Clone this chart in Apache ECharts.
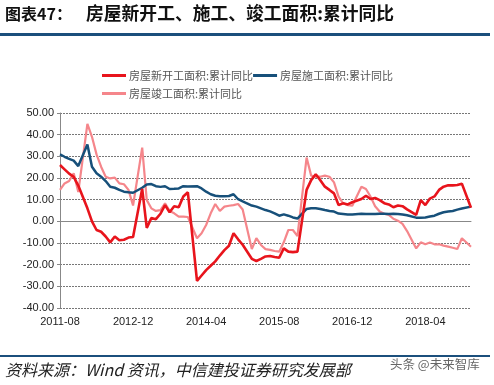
<!DOCTYPE html>
<html><head><meta charset="utf-8">
<script src="https://cdn.jsdelivr.net/npm/echarts@6/dist/echarts.min.js"></script>
<style>html,body{margin:0;padding:0;background:#fff}#c{width:494px;height:385px}</style>
</head><body><div id="c"></div>
<script>
// Monthly categories 2011-08 .. 2019-02 (January values not published -> null)
const startYear = 2011, startMonth = 8, nMonths = 91;
const months = [];
for (let i = 0; i < nMonths; i++) {
  const t = startMonth - 1 + i;
  const y = startYear + Math.floor(t / 12), m = t % 12 + 1;
  months.push(y + '-' + (m < 10 ? '0' + m : m));
}
const seriesNames = ['房屋新开工面积:累计同比', '房屋施工面积:累计同比', '房屋竣工面积:累计同比'];
const yTicks = [-40, -30, -20, -10, 0, 10, 20, 30, 40, 50];

const newStart = [
  26.0, 24.0, 22.0, 20.5, 16.5, null, 6.0, 0.0, -4.0, -4.8, -7.0, -9.7, -7.0, -8.7, -8.5, -7.5, -7.2,
  null, 15.0, -3.0, 1.5, 1.0, 3.5, 7.5, 4.2, 7.0, 6.5, 11.5, 13.4,
  null, -27.5, -25.0, -22.5, -20.5, -18.5, -15.8, -13.3, -11.3, -5.5, -8.3, -10.8,
  null, -17.3, -18.3, -17.3, -16.2, -16.0, -16.5, -16.8, -12.5, -14.0, -14.2, -14.0,
  null, 14.5, 19.0, 21.7, 19.0, 16.0, 14.5, 12.9, 7.5, 8.3, 7.8, 8.8,
  null, 10.3, 11.8, 10.3, 10.8, 9.8, 8.4, 7.8, 6.5, 7.3, 7.0, 5.5,
  null, 3.0, 9.8, 7.5, 10.5, 11.5, 14.5, 16.0, 16.6, 16.6, 16.8, 17.4,
  null, 6.3
];
const underConstruction = [
  30.9, 29.8, 28.8, 28.0, 25.5, null, 35.5, 25.2, 22.2, 20.6, 18.6, 16.0, 15.5, 14.5, 13.7, 13.4, 13.2,
  null, 15.5, 17.0, 17.2, 16.2, 15.9, 16.2, 14.9, 15.0, 15.2, 16.2, 16.1,
  null, 16.2, 15.2, 13.7, 12.5, 11.8, 11.6, 11.6, 11.7, 12.5, 10.2, 9.2,
  null, 7.3, 6.8, 6.0, 5.2, 4.6, 3.7, 2.6, 3.2, 2.6, 1.8, 1.3,
  null, 5.7, 6.0, 6.0, 5.7, 5.2, 4.8, 4.5, 3.6, 3.4, 3.2, 3.2,
  null, 3.5, 3.4, 3.4, 3.4, 3.5, 3.5, 3.4, 3.5, 3.4, 3.2, 2.8,
  null, 1.7, 1.7, 1.8, 2.2, 2.6, 3.5, 4.2, 4.5, 4.8, 5.4, 5.9,
  null, 6.8
];
const completed = [
  14.5, 17.5, 18.6, 22.2, 13.5, null, 45.0, 39.0, 30.9, 25.2, 20.6, 19.8, 20.2, 17.5, 17.1, 14.5, 7.3,
  null, 34.0, 9.8, 6.0, 4.8, 5.2, 8.3, 4.8, 3.7, 2.2, 2.2, 2.0,
  null, -7.8, -5.5, -1.7, 3.7, 8.0, 4.8, 6.8, 7.2, 7.5, 8.0, 5.5,
  null, -12.8, -7.8, -10.9, -12.8, -13.2, -13.7, -14.0, -9.7, -4.0, -4.0, -6.8,
  null, 29.4, 21.1, 20.6, 20.6, 21.1, 20.6, 18.0, 11.4, 8.3, 7.5, 7.2,
  null, 16.0, 14.9, 11.4, 7.0, 4.5, 3.5, 3.0, 1.2, 0.3, -1.2, -4.5,
  null, -12.5, -9.7, -10.6, -9.8, -10.6, -10.6, -11.2, -11.7, -12.2, -12.8, -7.8,
  null, -11.7
];

const chart = echarts.init(document.getElementById('c'), null, {renderer: 'canvas'});
const CJK = '"Noto Sans CJK SC", "Liberation Sans", sans-serif';
chart.setOption({
  animation: false,
  backgroundColor: '#ffffff',
  graphic: [
    {type: 'text', left: 5, top: 6, style: {text: '图表47：', font: 'bold 16px ' + CJK, fill: '#111'}},
    {type: 'text', left: 86, top: 4, style: {text: '房屋新开工、施工、竣工面积:累计同比', font: 'bold 17.8px ' + CJK, fill: '#111'}},
    {type: 'rect', shape: {x: 0, y: 33, width: 490, height: 3}, style: {fill: '#1b4f7c'}},
    {type: 'rect', shape: {x: 0, y: 355, width: 490, height: 2}, style: {fill: '#1b4f7c'}},
    {type: 'text', left: 5, top: 362, style: {text: '资料来源：Wind 资讯，中信建投证券研究发展部', font: 'italic 16px ' + CJK, fill: '#222'}},
    {type: 'text', left: 390, top: 358, style: {text: '头条 @未来智库', font: '12.5px ' + CJK, fill: '#666'}}
  ],
  legend: [
    {data: [seriesNames[0], seriesNames[1]], left: 97, top: 65, itemWidth: 24, itemHeight: 3, itemGap: 0,
     icon: 'rect', textStyle: {fontFamily: CJK, fontSize: 11, color: '#555', padding: [0, 0, 0, -2]}},
    {data: [seriesNames[2]], left: 97, top: 83, itemWidth: 24, itemHeight: 3,
     icon: 'rect', textStyle: {fontFamily: CJK, fontSize: 11, color: '#555', padding: [0, 0, 0, -2]}}
  ],
  grid: {left: 60, right: 23, top: 113, bottom: 77},
  xAxis: {
    type: 'category', data: months, boundaryGap: false,
    axisLine: {show: true, lineStyle: {color: '#888', width: 1}},
    axisTick: {show: false},
    axisLabel: {interval: 15, color: '#222', fontSize: 11, fontFamily: 'Liberation Sans, Arial', margin: 8},
    splitLine: {show: false}
  },
  yAxis: {
    type: 'value', min: yTicks[0], max: yTicks[yTicks.length - 1], interval: 10,
    axisLine: {show: true, lineStyle: {color: '#888'}},
    axisTick: {show: true, length: 3, lineStyle: {color: '#888'}},
    axisLabel: {color: '#222', fontSize: 11, fontFamily: 'Liberation Sans, Arial', margin: 6,
      formatter: v => v.toFixed(2)},
    splitLine: {show: true, lineStyle: {color: '#777', type: [2, 1], width: 1}}
  },
  series: [
    {name: seriesNames[0], type: 'line', data: newStart, connectNulls: true, showSymbol: false, symbol: 'none',
     lineStyle: {color: '#e8141c', width: 2.6}, itemStyle: {color: '#e8141c'}, z: 4},
    {name: seriesNames[1], type: 'line', data: underConstruction, connectNulls: true, showSymbol: false, symbol: 'none',
     lineStyle: {color: '#17507a', width: 2.5}, itemStyle: {color: '#17507a'}, z: 3},
    {name: seriesNames[2], type: 'line', data: completed, connectNulls: true, showSymbol: false, symbol: 'none',
     lineStyle: {color: '#f5868b', width: 2.2}, itemStyle: {color: '#f5868b'}, z: 2}
  ]
});
</script></body></html>
